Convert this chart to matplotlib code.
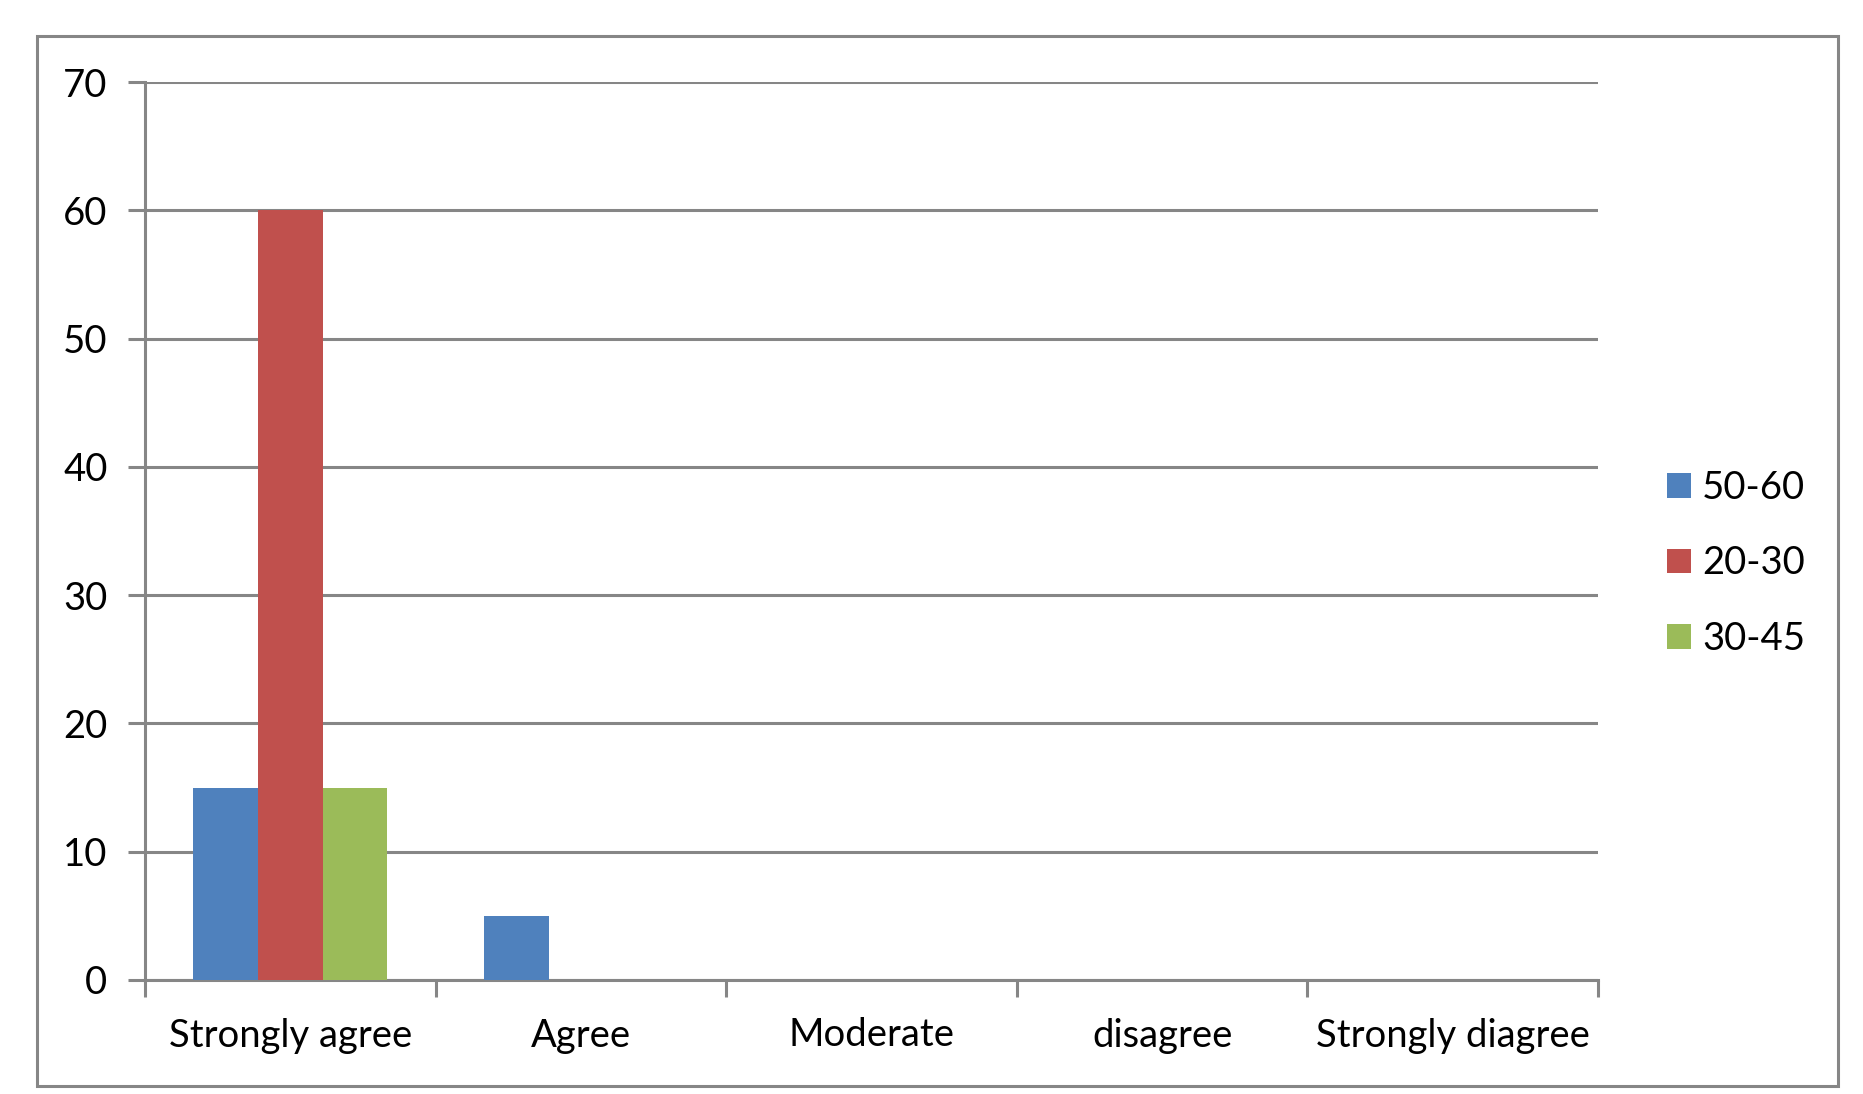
import matplotlib
matplotlib.use("Agg")
import matplotlib.pyplot as plt
from matplotlib.patches import Rectangle
import numpy as np

categories = ["Strongly agree", "Agree", "Moderate", "disagree", "Strongly diagree"]
series_names = ["50-60", "20-30", "30-45"]
s_50_60 = [15, 5, 0, 0, 0]
s_20_30 = [60, 0, 0, 0, 0]
s_30_45 = [15, 0, 0, 0, 0]
yticks = [0, 10, 20, 30, 40, 50, 60, 70]

colors = ["#4F81BD", "#C0504D", "#9BBB59"]
grey = "#868686"

plt.rcParams['font.family'] = ['Lato', 'DejaVu Sans']
FS = 27.5

W, H = 1863, 1094
fig = plt.figure(figsize=(W / 100, H / 100), dpi=100)

# outer chart border
fig.patches.append(Rectangle((37 / W, 1 - 1086 / H), (1838 - 37) / W, (1086 - 36) / H,
                             transform=fig.transFigure, fill=False, edgecolor=grey, linewidth=2.2))

ax = fig.add_axes([145 / W, 1 - 980 / H, (1598 - 145) / W, (980 - 82) / H])

x = np.arange(len(categories))
bw = 1 / 4.5
for i, (vals, name) in enumerate(zip([s_50_60, s_20_30, s_30_45], series_names)):
    ax.bar(x + (i - 1) * bw, vals, width=bw, color=colors[i], label=name, zorder=3)

ax.set_xlim(-0.5, len(categories) - 0.5)
ax.set_ylim(0, 70)
ax.set_yticks(yticks)
ax.yaxis.grid(True, color=grey, linewidth=2.2, zorder=0)
ax.set_axisbelow(True)

ax.set_xticks(x)
ax.set_xticklabels(categories)
ax.tick_params(axis='x', which='major', length=0, pad=27, labelsize=FS)
ax.set_xticks(np.arange(-0.5, len(categories)), minor=True)
ax.tick_params(axis='x', which='minor', length=12, width=2.2, color=grey, direction='out')
ax.tick_params(axis='y', length=12, width=2.2, color=grey, direction='out', pad=15, labelsize=FS)

for s in ['top', 'right']:
    ax.spines[s].set_visible(False)
for s in ['left', 'bottom']:
    ax.spines[s].set_color(grey)
    ax.spines[s].set_linewidth(2.2)

leg = ax.legend(loc='center left', frameon=False,
                fontsize=FS, handlelength=0.62, handleheight=0.62, handletextpad=0.3,
                labelspacing=1.03, borderpad=0, borderaxespad=0)
leg.set_bbox_to_anchor((1.0475, 0.464), transform=ax.transAxes)

fig.savefig("out.png", dpi=100)
